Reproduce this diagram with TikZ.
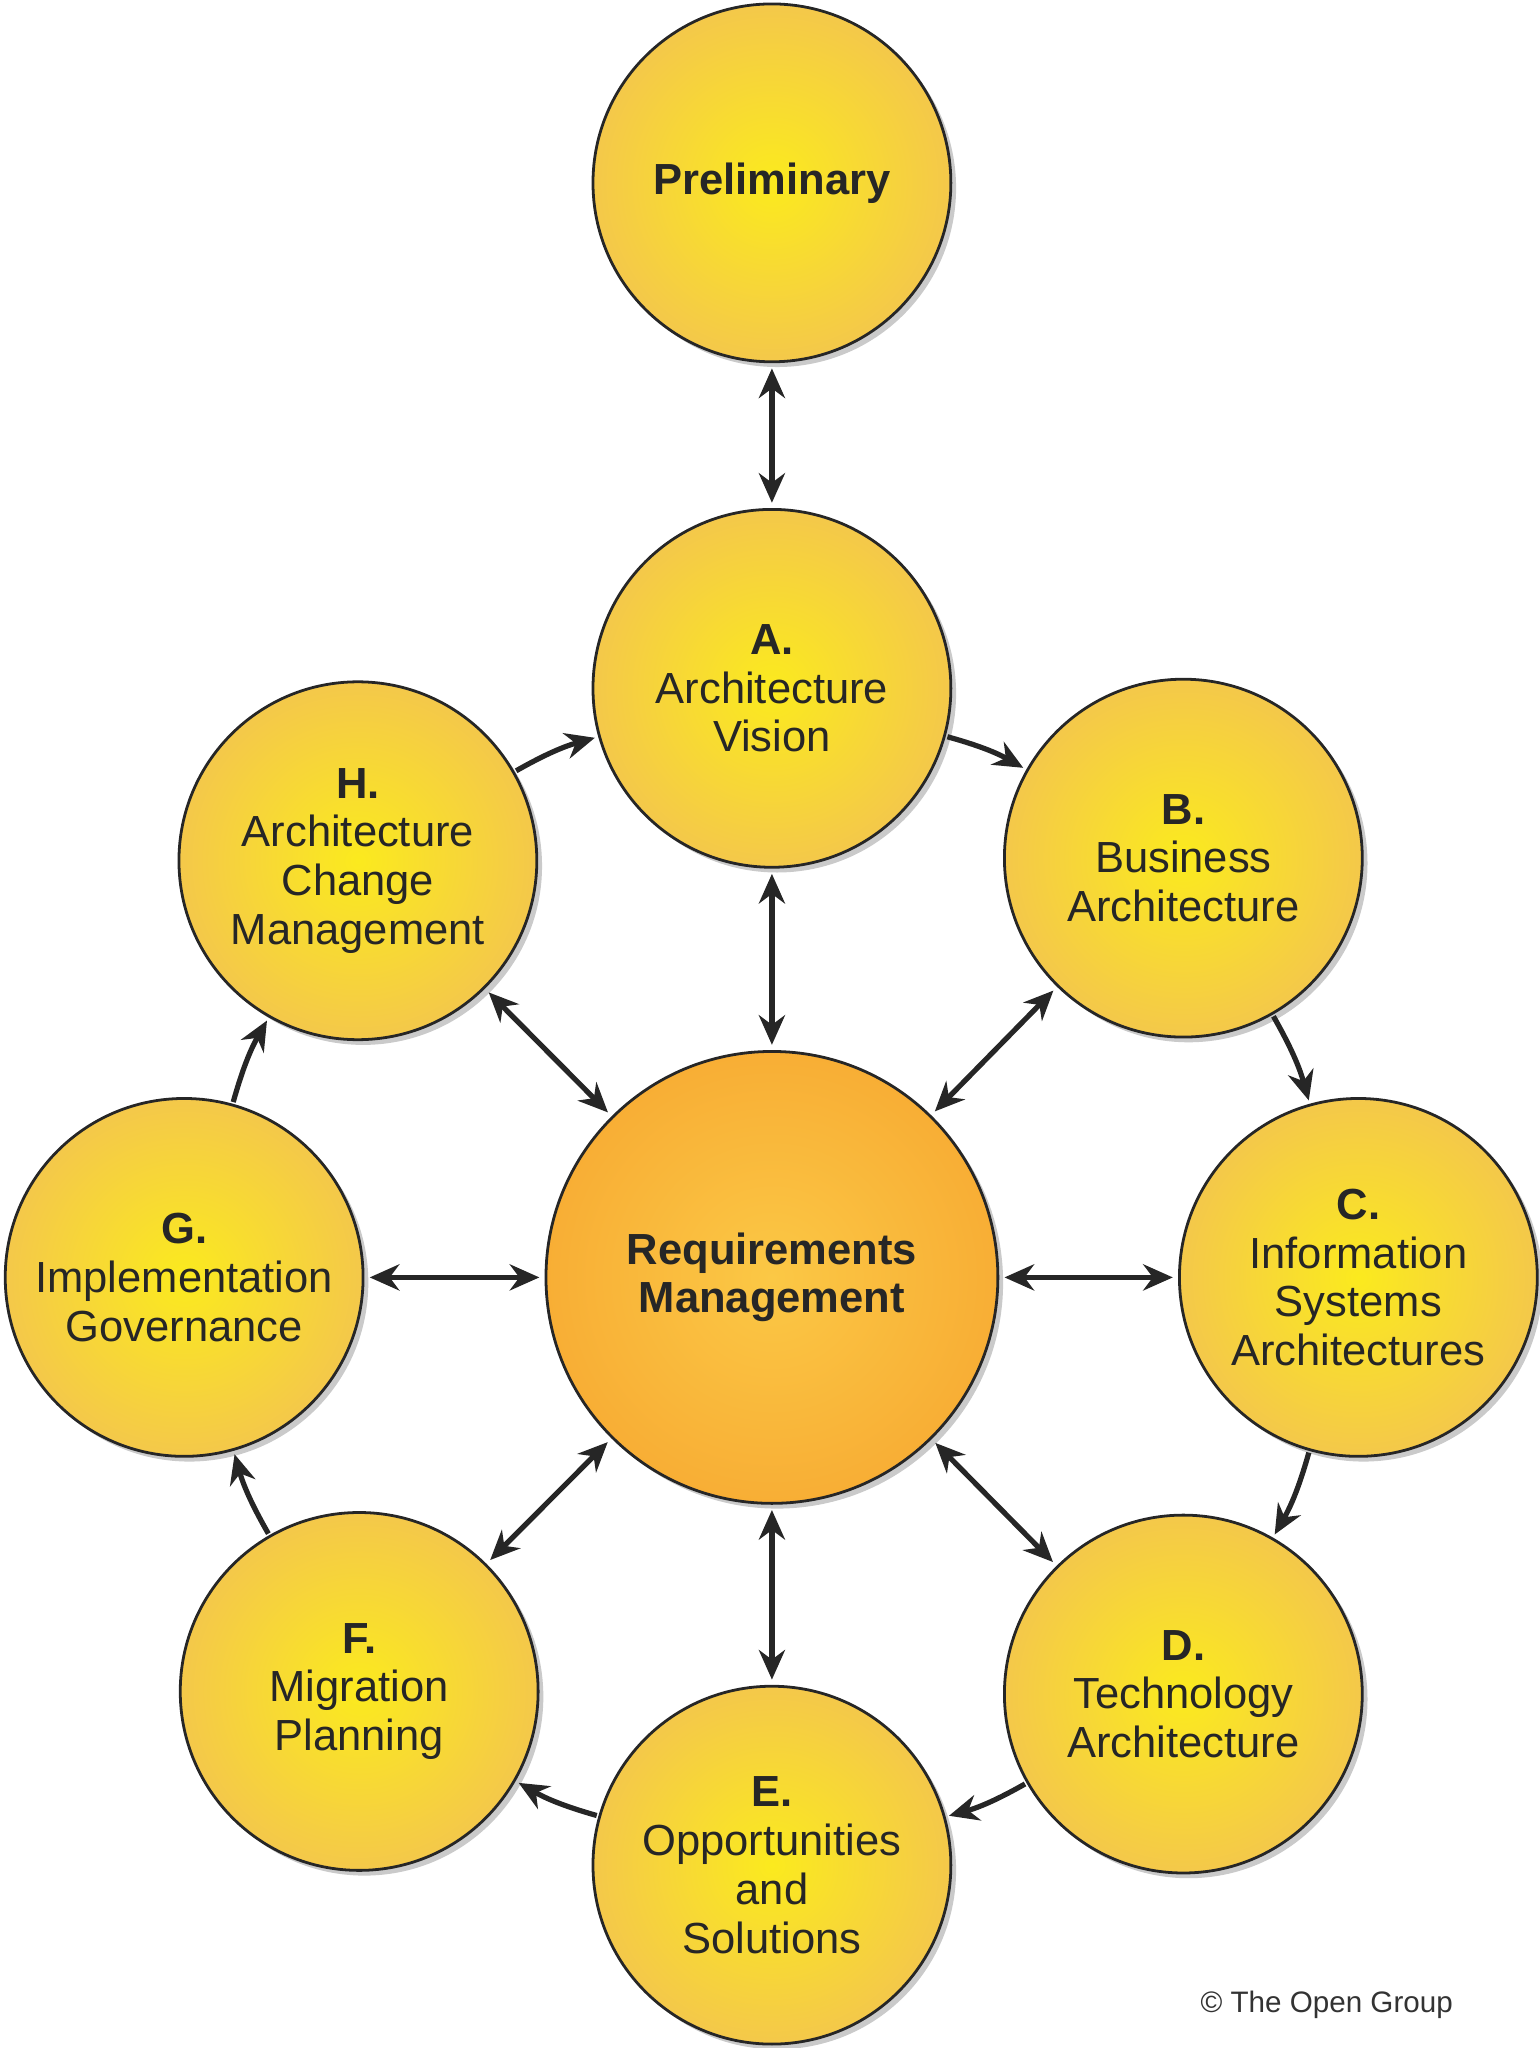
\documentclass[tikz,border=0pt]{standalone}
\usepackage{fontspec}
\setmainfont{Liberation Sans}
\usetikzlibrary{shadows,arrows.meta}
\definecolor{sunC}{HTML}{FBEA1E}
\definecolor{sunE}{HTML}{F4C84A}
\definecolor{reqC}{HTML}{FBC845}
\definecolor{reqE}{HTML}{F8AE35}

\begin{document}
\begin{tikzpicture}[x=0.75pt,y=-0.75pt,
    phase/.style={circle,draw=black!85,line width=1.6pt,minimum size=274*0.75pt,inner sep=0pt,
      inner color=sunC,outer color=sunE,align=center,
      font=\fontsize{25}{28}\selectfont,text=black!85,
      drop shadow={shadow xshift=3pt,shadow yshift=-3pt,fill=black!35,opacity=.6}},
    req/.style={phase,minimum size=346*0.75pt,inner color=reqC,outer color=reqE,font=\fontsize{25}{28}\selectfont\bfseries},
    link/.style={line width=3pt,draw=black!85,{Stealth[length=17pt,width=15pt]}-{Stealth[length=17pt,width=15pt]},shorten <=3pt,shorten >=3pt},
    cycle arrow/.style={line width=3pt,draw=black!85,-{Stealth[length=17pt,width=15pt]},bend left=7,shorten <=1pt,shorten >=2pt}]
    \useasboundingbox (0,0) rectangle (1179,1568);

    \node[phase] (pre) at (591,140) {\textbf{Preliminary}};
    \node[phase] (a) at (591,527) {\textbf{A.}\\Architecture\\Vision};
    \node[phase] (b) at (906,657) {\textbf{B.}\\Business\\Architecture};
    \node[phase] (c) at (1040,978) {\textbf{C.}\\Information\\Systems\\Architectures};
    \node[phase] (d) at (906,1297) {\textbf{D.}\\Technology\\Architecture};
    \node[phase] (e) at (591,1428) {\textbf{E.}\\Opportunities\\and\\Solutions};
    \node[phase] (f) at (275,1295) {\textbf{F.}\\Migration\\Planning};
    \node[phase] (g) at (141,978) {\textbf{G.}\\Implementation\\Governance};
    \node[phase] (h) at (274,659) {\textbf{H.}\\Architecture\\Change\\Management};
    \node[req] (rm) at (591,978) {Requirements\\Management};
    \node[anchor=east,font=\fontsize{17}{19}\selectfont,text=black!80] (copy) at (1117,1535) {© The Open Group};

    \draw[link] (pre) -- (a);
    \foreach \p in {a,b,c,d,e,f,g,h}
      \draw[link] (rm) -- (\p);

    \draw[cycle arrow] (a) to (b);
    \draw[cycle arrow] (b) to (c);
    \draw[cycle arrow] (c) to (d);
    \draw[cycle arrow] (d) to (e);
    \draw[cycle arrow] (e) to (f);
    \draw[cycle arrow] (f) to (g);
    \draw[cycle arrow] (g) to (h);
    \draw[cycle arrow] (h) to (a);
\end{tikzpicture}
\end{document}
